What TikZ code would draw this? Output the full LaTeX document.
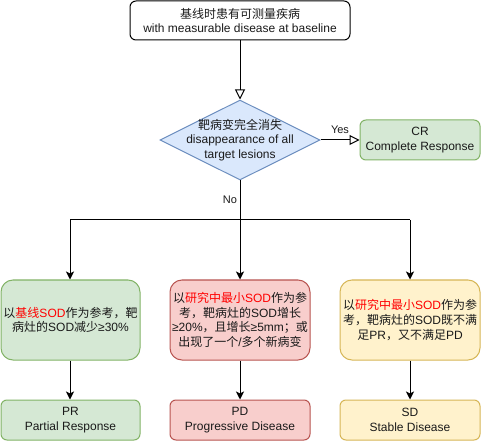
\documentclass[tikz,border=0pt]{standalone}
\usepackage{fontspec}
\setmainfont{Liberation Sans}
\newfontfamily\cjk{Noto Sans CJK SC}
\newcommand{\zh}[1]{{\cjk #1}}
\usetikzlibrary{arrows.meta,shapes.geometric}
\definecolor{gfill}{HTML}{D5E8D4}\definecolor{gline}{HTML}{82B366}
\definecolor{rfill}{HTML}{F8CECC}\definecolor{rline}{HTML}{B85450}
\definecolor{yfill}{HTML}{FFF2CC}\definecolor{yline}{HTML}{D6B656}
\definecolor{bfill}{HTML}{DAE8FC}\definecolor{bline}{HTML}{6C8EBF}
\definecolor{txt}{HTML}{1A1A1A}
\definecolor{hl}{HTML}{FF0000}
\begin{document}
\begin{tikzpicture}[x=0.75pt,y=-0.75pt,
  every node/.style={font=\fontsize{9}{11}\selectfont,text=txt,align=center,inner sep=0pt},
  boxbase/.style={draw,line width=0.75pt,rectangle,minimum width=105pt},
  smallbox/.style={boxbase,minimum height=30pt,rounded corners=4.5pt},
  bigbox/.style={boxbase,minimum height=60pt,rounded corners=9pt},
  greenbox/.style={fill=gfill,draw=gline},
  redbox/.style={fill=rfill,draw=rline},
  yellowbox/.style={fill=yfill,draw=yline},
  openarrow/.style={line width=0.75pt,-{Triangle[open,length=7.5pt,width=7.5pt]}},
  arr/.style={line width=0.75pt,-{Stealth[length=6pt,width=6pt,inset=1.5pt]}},
  conn/.style={line width=0.75pt},
  lbl/.style={font=\fontsize{8.25}{10}\selectfont}
]
\useasboundingbox[fill=white] (0,0) rectangle (481,441);

\node[boxbase,fill=white,draw=black,minimum width=165pt,minimum height=29.25pt,rounded corners=4.5pt] (top) at (240,20.5)
  {\zh{基线时患有可测量疾病}\\with measurable disease at baseline};

\node[diamond,draw=bline,fill=bfill,line width=0.75pt,minimum width=120pt,minimum height=60pt,inner sep=0pt] (dia) at (240,140) {};
\node[align=center] (diatext) at (240,140) {\zh{靶病变完全消失}\\disappearance of all\\target lesions};

\node[smallbox,greenbox,minimum width=90pt] (cr) at (420,140) {CR\\Complete Response};

\node[bigbox,greenbox,minimum width=104.25pt] (prc) at (70.5,320)
  {\zh{以}\textcolor{hl}{\zh{基线}SOD}\zh{作为参考，靶}\\\zh{病灶的}SOD\zh{减少}≥30\%};
\node[bigbox,redbox] (pdc) at (240,320)
  {\zh{以}\textcolor{hl}{\zh{研究中最小}SOD}\zh{作为参}\\\zh{考，靶病灶的}SOD\zh{增长}\\≥20\%\zh{，且增长}≥5mm\zh{；或}\\\zh{出现了一个}/\zh{多个新病变}};
\node[bigbox,yellowbox] (sdc) at (410,320)
  {\zh{以}\textcolor{hl}{\zh{研究中最小}SOD}\zh{作为参}\\\zh{考，靶病灶的}SOD\zh{既不满}\\\zh{足}PR\zh{，又不满足}PD};

\node[smallbox,greenbox,minimum width=104.25pt] (pr) at (70.5,420) {PR\\Partial Response};
\node[smallbox,redbox] (pd) at (240,420) {PD\\Progressive Disease};
\node[smallbox,yellowbox] (sd) at (410,420) {SD\\Stable Disease};

\draw[openarrow] (top.south) -- (dia.north);
\draw[openarrow] (dia.east) -- (cr.west);
\node[lbl] (yes) at (340,130) {Yes};

\coordinate (jl) at (70,220);
\coordinate (jr) at (410,220);
\draw[conn] (jl) -- (jr);
\draw[arr] (dia.south) -- (pdc.north);
\draw[arr] (jl) -- (prc.north -| jl);
\draw[arr] (jr) -- (sdc.north);
\node[lbl] (no) at (230,200) {No};

\draw[arr] (prc.south -| jl) -- (pr.north -| jl);
\draw[arr] (pdc.south) -- (pd.north);
\draw[arr] (sdc.south) -- (sd.north);
\end{tikzpicture}
\end{document}
